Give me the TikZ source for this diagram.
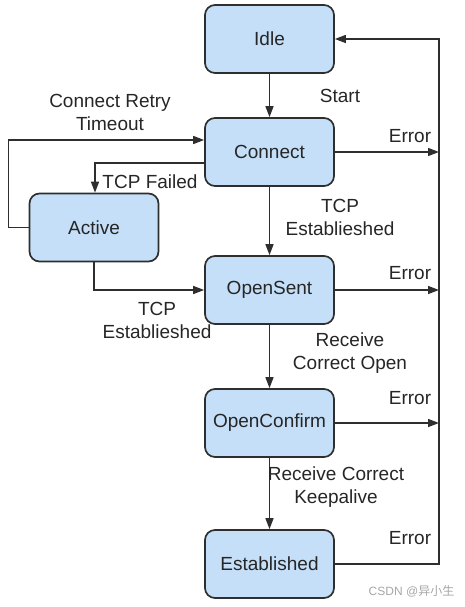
\documentclass[tikz,border=0pt]{standalone}
\usepackage{fontspec}
\setmainfont{Liberation Sans}
\newfontfamily\cjk{Noto Sans CJK SC}
\usetikzlibrary{arrows.meta}
\definecolor{statefill}{HTML}{C4DFF7}
\definecolor{lineclr}{HTML}{2E2E2E}
\tikzset{
  state/.style={draw=lineclr, line width=1.7pt, fill=statefill, rounded corners=10pt,
    minimum width=129pt, minimum height=68pt, inner sep=0pt,
    font=\fontsize{19}{23}\selectfont, text=black!85},
  lbl/.style={align=center, font=\fontsize{19}{23}\selectfont, text=black!85, inner sep=0pt},
}
\begin{document}
\begin{tikzpicture}[x=1pt, y=-1pt, >={Triangle[length=11pt,width=8pt]}, line width=1.5pt, draw=lineclr]
        \useasboundingbox (0,0) rectangle (464,607);

        % states
        \node[state] (idle) at (269.5, 39) {Idle};
        \node[state] (connect) at (269.5, 152) {Connect};
        \node[state] (active) at (94, 227.5) {Active};
        \node[state] (opensent) at (269.5, 290) {OpenSent};
        \node[state] (openconfirm) at (269.5, 423) {OpenConfirm};
        \node[state] (established) at (269.5, 564) {Established};

        % error bus on the right
        \coordinate (ret) at (439, 39);

        \draw[->] (idle) -- (connect);
        \node[lbl] (start) at (340, 96) {Start};

        \draw[->] (active.west) -- ++(-20,0) |- ([yshift=12pt]connect.west);
        \node[lbl] (retry) at (110, 112) {Connect Retry\\Timeout};

        \draw[->] ([yshift=-11pt]connect.west) -| ([xshift=1pt]active.north);
        \node[lbl] (failed) at (150, 182) {TCP Failed};

        \draw[->] (connect) -- (opensent);
        \node[lbl] (est1) at (340, 217) {TCP\\Establieshed};

        \draw[->] (active.south) |- (opensent.west);
        \node[lbl] (est2) at (157, 320) {TCP\\Establieshed};

        \draw[->] (opensent) -- (openconfirm);
        \node[lbl] (rcvopen) at (350, 353) {Receive\\Correct Open};

        \draw[->] (openconfirm) -- (established);
        \node[lbl] (rcvkeep) at (336, 487) {Receive Correct\\Keepalive};

        \draw[->] (connect.east) -- (connect.east -| ret);
        \node[lbl] (err1) at (410, 136) {Error};
        \draw[->] (opensent.east) -- (opensent.east -| ret);
        \node[lbl] (err2) at (410, 273) {Error};
        \draw[->] (openconfirm.east) -- (openconfirm.east -| ret);
        \node[lbl] (err3) at (410, 398) {Error};
        \draw[->] (established.east) -| (ret) -- (idle.east);
        \node[lbl] (err4) at (410, 538) {Error};

        \node[text=black!35, font=\fontsize{12}{14}\selectfont, anchor=east, inner sep=0pt] (mark) at (455, 591) {CSDN @{\cjk 异小生}};

    \end{tikzpicture}
\end{document}
